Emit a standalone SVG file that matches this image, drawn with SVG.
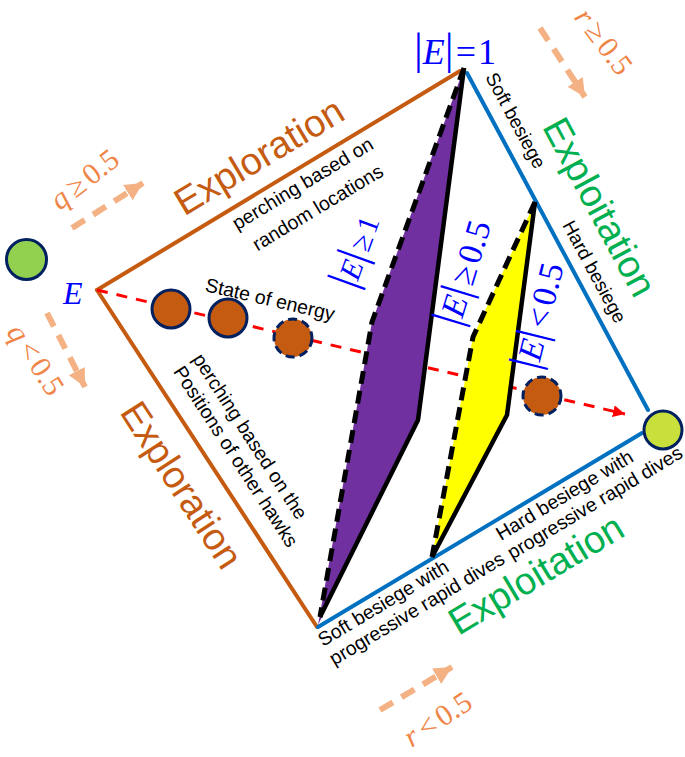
<svg xmlns="http://www.w3.org/2000/svg" width="685" height="757" viewBox="0 0 685 757">
<defs>
<style>
.ed-o{stroke:#c55a11;stroke-width:4;fill:none;stroke-linecap:round}
.ed-b{stroke:#0070c0;stroke-width:4;fill:none;stroke-linecap:round}
.solid{stroke:#000;stroke-width:4.5;fill:none;stroke-linejoin:round}
.dash{stroke:#000;stroke-width:5;fill:none;stroke-dasharray:13 7}
.oarr{stroke:#f4b183;stroke-width:6;fill:none;stroke-dasharray:15 10}
.red{stroke:#ff0000;stroke-width:3;fill:none;stroke-dasharray:11 9}
.st{fill:#c55a11;stroke:#002060;stroke-width:3}
.st-d{fill:#c55a11;stroke:#002060;stroke-width:3;stroke-dasharray:9 5}
.big{font-family:"Liberation Sans",Arial,sans-serif;font-size:38px}
.lab{font-family:"Liberation Sans",Arial,sans-serif;font-size:19.5px;fill:#000}
.lab2{font-family:"Liberation Sans",Arial,sans-serif;font-size:19px;fill:#000}
.math{font-family:"Liberation Serif","Times New Roman",serif;fill:#0000ff}
.cond{font-family:"Liberation Serif","Times New Roman",serif;fill:#f08548;font-size:30px}
.bar{font-size:44px;font-style:normal}
</style>
<marker id="ah-o" viewBox="0 0 10 10" refX="10" refY="5" markerWidth="18" markerHeight="18" markerUnits="userSpaceOnUse" orient="auto"><path d="M0,0 L10,5 L0,10 z" fill="#f4b183"/></marker>
<marker id="ah-r" viewBox="0 0 10 10" refX="10" refY="5" markerWidth="12" markerHeight="12" markerUnits="userSpaceOnUse" orient="auto"><path d="M0,0 L10,5 L0,10 z" fill="#ff0000"/></marker>
</defs>
<rect width="685" height="757" fill="#fff"/>

<g id="edges">
<line class="ed-o" x1="97" y1="290" x2="460" y2="71"/>
<line class="ed-o" x1="97" y1="290" x2="317" y2="627"/>
<line class="ed-b" x1="467" y1="73" x2="648" y2="410"/>
<line class="ed-b" x1="318" y1="627" x2="642" y2="433"/>
</g>

<g id="connectors">
<line class="red" x1="97" y1="290" x2="625" y2="414" marker-end="url(#ah-r)"/>
<line class="oarr" x1="72" y1="228" x2="143" y2="183" marker-end="url(#ah-o)"/>
<line class="oarr" x1="47" y1="313" x2="85" y2="387" marker-end="url(#ah-o)"/>
<line class="oarr" x1="540" y1="28" x2="585" y2="97" marker-end="url(#ah-o)"/>
<line class="oarr" x1="380" y1="710" x2="452" y2="667" marker-end="url(#ah-o)"/>
</g>

<g id="purple-zone">
<polygon points="464,68 418,420 318,625 372,322" fill="#7030a0"/>
<polyline class="solid" points="464,68 418,420 320,617"/>
<polyline class="dash" points="464,68 372,322 320,617"/>
</g>

<g id="yellow-zone">
<polygon points="535,202 507,415 432,557 473,337" fill="#ffff00"/>
<polyline class="solid" points="535,202 507,415 432,557"/>
<polyline class="dash" points="535,202 473,337 432,557"/>
</g>

<g id="circle-start"><circle cx="26.5" cy="259.5" r="20" fill="#92d050" stroke="#002060" stroke-width="3"/></g>
<g id="circle-end"><circle cx="663" cy="430" r="19" fill="#c9e03c" stroke="#002060" stroke-width="3"/></g>
<g id="energy-1"><circle class="st" cx="171" cy="309" r="19"/></g>
<g id="energy-2"><circle class="st" cx="228" cy="318" r="19"/></g>
<g id="energy-3"><circle class="st-d" cx="293" cy="338" r="19"/></g>
<g id="energy-4"><circle class="st-d" cx="542" cy="396" r="19"/></g>

<g id="labels">
<text class="math" x="63" y="304" font-size="32" font-style="italic">E</text>
<text class="math" x="414" y="64" font-size="36"><tspan class="bar" font-size="48">|</tspan><tspan font-style="italic">E</tspan><tspan class="bar" font-size="48">|</tspan><tspan dx="2">=</tspan><tspan dx="2">1</tspan></text>

<text class="math" transform="translate(358,252) rotate(-70)" y="10" font-size="30" text-anchor="middle"><tspan class="bar">|</tspan><tspan font-style="italic">E</tspan><tspan class="bar">|</tspan><tspan dx="3">≥</tspan><tspan dx="3">1</tspan></text>
<text class="math" transform="translate(465,273) rotate(-73)" y="11" font-size="34" text-anchor="middle"><tspan class="bar">|</tspan><tspan font-style="italic">E</tspan><tspan class="bar">|</tspan><tspan dx="4">≥</tspan><tspan dx="4">0.5</tspan></text>
<text class="math" transform="translate(540,316) rotate(-76)" y="11" font-size="34" text-anchor="middle"><tspan class="bar">|</tspan><tspan font-style="italic">E</tspan><tspan class="bar">|</tspan><tspan dx="4">&lt;</tspan><tspan dx="4">0.5</tspan></text>

<text class="big" fill="#c55a11" transform="translate(260,158) rotate(-31)" y="11" text-anchor="middle">Exploration</text>
<text class="big" fill="#c55a11" transform="translate(180,486) rotate(57)" y="11" text-anchor="middle">Exploration</text>
<text class="big" fill="#00b050" transform="translate(598,208) rotate(61.7)" y="11" text-anchor="middle">Exploitation</text>
<text class="big" fill="#00b050" transform="translate(537,576) rotate(-31)" y="11" text-anchor="middle">Exploitation</text>

<text class="lab" transform="translate(303,184) rotate(-31)" y="6" text-anchor="middle">perching based on</text>
<text class="lab" transform="translate(318,208) rotate(-31)" y="6" text-anchor="middle">random locations</text>
<text class="lab" transform="translate(270,300) rotate(13)" y="6" text-anchor="middle">State of energy</text>
<text class="lab" transform="translate(192,359) rotate(57)"><tspan x="0" y="0">perching based on the</tspan><tspan x="0" y="23">Positions of other hawks</tspan></text>
<text class="lab2" transform="translate(485,77) rotate(61.7)">Soft besiege</text>
<text class="lab2" transform="translate(562,225) rotate(61.7)">Hard besiege</text>
<text class="lab" transform="translate(323,647) rotate(-31)"><tspan x="0" y="0">Soft besiege with</tspan><tspan x="0" y="22">progressive rapid dives</tspan></text>
<text class="lab" transform="translate(501,541) rotate(-31)"><tspan x="0" y="0">Hard besiege with</tspan><tspan x="0" y="22">progressive rapid dives</tspan></text>

<text class="cond" transform="translate(85,180) rotate(-38)" y="9" text-anchor="middle"><tspan font-style="italic">q</tspan><tspan dx="5">≥</tspan><tspan dx="4">0.5</tspan></text>
<text class="cond" transform="translate(35,360) rotate(57)" y="9" text-anchor="middle"><tspan font-style="italic">q</tspan><tspan dx="5">&lt;</tspan><tspan dx="4">0.5</tspan></text>
<text class="cond" transform="translate(603,42) rotate(53)" y="9" text-anchor="middle"><tspan font-style="italic">r</tspan><tspan dx="5">≥</tspan><tspan dx="4">0.5</tspan></text>
<text class="cond" transform="translate(438,720) rotate(-33)" y="9" text-anchor="middle"><tspan font-style="italic">r</tspan><tspan dx="5">&lt;</tspan><tspan dx="4">0.5</tspan></text>
</g>
</svg>
